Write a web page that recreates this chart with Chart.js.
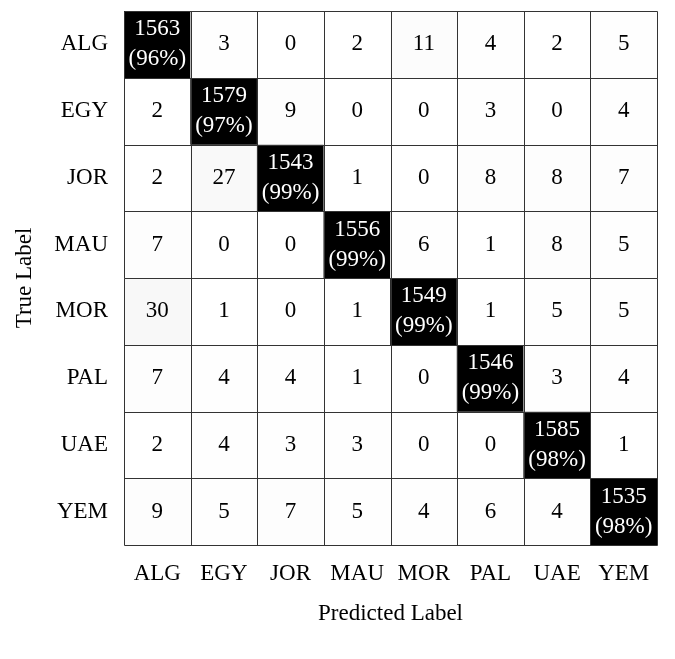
<!DOCTYPE html>
<html>
<head>
<meta charset="utf-8">
<script src="https://cdn.jsdelivr.net/npm/chart.js@4"></script>
<style>
  body { margin: 0; background: #fff; }
  #wrap { width: 675px; height: 659px; }
</style>
</head>
<body>
<div id="wrap"><canvas id="cm" width="675" height="659"></canvas></div>
<script>
// confusion matrix: rows = true label, columns = predicted label
const labels = ['ALG', 'EGY', 'JOR', 'MAU', 'MOR', 'PAL', 'UAE', 'YEM'];

const rowALG = [1563, 3, 0, 2, 11, 4, 2, 5];
const rowEGY = [2, 1579, 9, 0, 0, 3, 0, 4];
const rowJOR = [2, 27, 1543, 1, 0, 8, 8, 7];
const rowMAU = [7, 0, 0, 1556, 6, 1, 8, 5];
const rowMOR = [30, 1, 0, 1, 1549, 1, 5, 5];
const rowPAL = [7, 4, 4, 1, 0, 1546, 3, 4];
const rowUAE = [2, 4, 3, 3, 0, 0, 1585, 1];
const rowYEM = [9, 5, 7, 5, 4, 6, 4, 1535];

const diagPercent = [96, 97, 99, 99, 99, 99, 98, 98];

const rows = [rowALG, rowEGY, rowJOR, rowMAU, rowMOR, rowPAL, rowUAE, rowYEM];

const FONT = 'Liberation Serif';
const SIZE = 23;

const vmax = Math.max(...rows.map(r => Math.max(...r)));

// grey ramp: only the bigger off-diagonal counts pick up a faint tint
function greyFor(v) {
    const t = v / vmax;
    let g = t > 0.5 ? Math.round(12 * (1 - t)) : Math.round(255 - 380 * t);
    g = Math.max(0, Math.min(255, g));
    return 'rgb(' + g + ',' + g + ',' + g + ')';
}

// each row is a dataset of floating bars spanning one unit on the y axis
const datasets = rows.map((r, i) => ({
    label: labels[i],
    data: r.map(() => [7 - i, 8 - i]),
    backgroundColor: r.map(v => greyFor(v)),
    borderWidth: 0,
    categoryPercentage: 1,
    barPercentage: 1
}));

const cellText = {
    id: 'cellText',
    afterDatasetsDraw(chart) {
        const ctx = chart.ctx;
        const ys = chart.scales.y;
        const first = chart.getDatasetMeta(0).data;
        ctx.save();

        // grid lines between the cells
        ctx.strokeStyle = '#333';
        ctx.lineWidth = 1;
        ctx.beginPath();
        const xs = first.map(b => b.x - b.width / 2);
        xs.push(first[first.length - 1].x + first[first.length - 1].width / 2);
        const top = Math.round(ys.getPixelForValue(8)) + 0.5;
        const bot = Math.round(ys.getPixelForValue(0)) + 0.5;
        xs.forEach(x => {
            const px = Math.round(x) + 0.5;
            ctx.moveTo(px, top);
            ctx.lineTo(px, bot);
        });
        const left = Math.round(xs[0]) + 0.5;
        const right = Math.round(xs[xs.length - 1]) + 0.5;
        for (let k = 0; k <= 8; k++) {
            const py = Math.round(ys.getPixelForValue(k)) + 0.5;
            ctx.moveTo(left, py);
            ctx.lineTo(right, py);
        }
        ctx.stroke();

        ctx.font = SIZE + 'px "' + FONT + '"';
        ctx.textAlign = 'center';
        ctx.textBaseline = 'middle';
        rows.forEach((r, i) => {
            const meta = chart.getDatasetMeta(i);
            meta.data.forEach((bar, j) => {
                const cy = (bar.y + bar.base) / 2;
                if (i === j) {
                    ctx.fillStyle = '#fff';
                    ctx.fillText(String(r[j]), bar.x, cy - 15);
                    ctx.fillText('(' + diagPercent[i] + '%)', bar.x, cy + 15);
                } else {
                    ctx.fillStyle = '#000';
                    ctx.fillText(String(r[j]), bar.x, cy);
                }
            });
        });
        ctx.restore();
    }
};

new Chart(document.getElementById('cm'), {
    type: 'bar',
    data: { labels: labels, datasets: datasets },
    plugins: [cellText],
    options: {
        responsive: false,
        animation: false,
        devicePixelRatio: 1,
        layout: { padding: { top: 11, right: 18, left: 0, bottom: 0 } },
        plugins: { legend: { display: false }, tooltip: { enabled: false } },
        scales: {
            x: {
                stacked: true,
                grid: { display: false, drawTicks: false },
                border: { display: false },
                ticks: { color: '#000', padding: 15, font: { family: FONT, size: SIZE } },
                title: {
                    display: true, text: 'Predicted Label', color: '#000',
                    font: { family: FONT, size: SIZE }, padding: { top: 0, bottom: 31 }
                },
                afterFit: s => { s.height = 114; s.paddingLeft = 0; s.paddingRight = 0; }
            },
            y: {
                min: 0,
                max: 8,
                grid: { display: false, drawTicks: false },
                border: { display: false },
                afterBuildTicks: s => { s.ticks = labels.map((_, i) => ({ value: 7.5 - i })); },
                ticks: {
                    color: '#000', padding: 16, font: { family: FONT, size: SIZE },
                    callback: v => labels[Math.round(7.5 - v)]
                },
                title: {
                    display: true, text: 'True Label', color: '#000',
                    font: { family: FONT, size: SIZE }, padding: { top: 11, bottom: 0 }
                },
                afterFit: s => { s.width = 124; s.paddingTop = 0; s.paddingBottom = 0; }
            }
        }
    }
});
</script>
</body>
</html>
